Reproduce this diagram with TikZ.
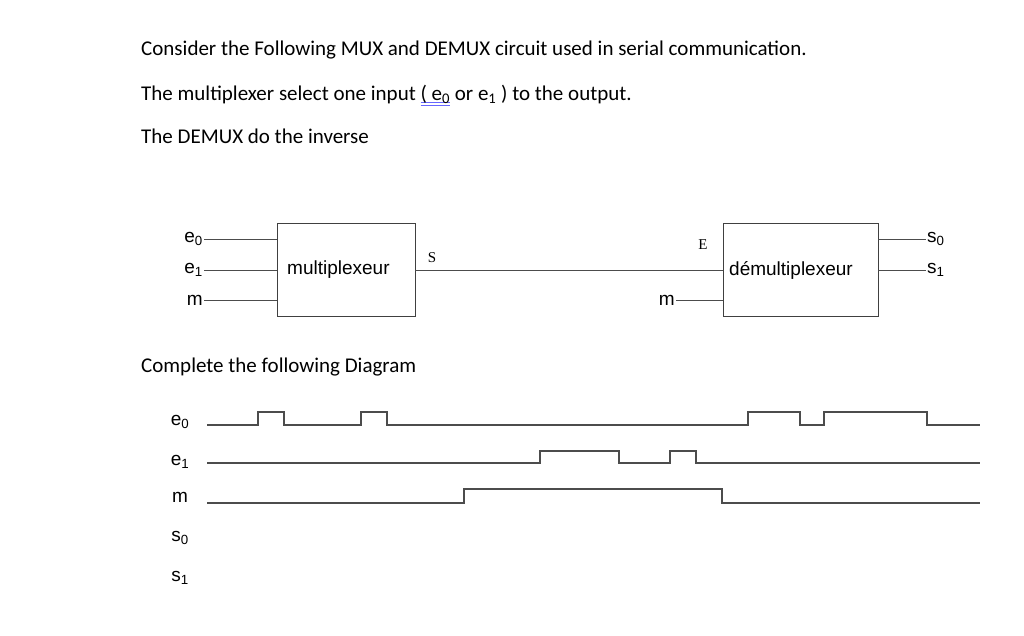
\documentclass[tikz,border=0pt]{standalone}
\usepackage{fontspec}
\usepackage{xcolor}
\setmainfont{Carlito}
\newfontfamily\arial{Liberation Sans}
\newfontfamily\tms{Liberation Serif}
\newsavebox\dulbox
\newcommand\dulx[1]{\sbox\dulbox{#1}\rlap{\color{blue!60}\raisebox{-3pt}{\rule{\wd\dulbox}{0.9pt}}}\rlap{\color{blue!60}\raisebox{-6pt}{\rule{\wd\dulbox}{0.9pt}}}\usebox\dulbox}
\begin{document}
\begin{tikzpicture}[x=1pt,y=-1pt,
  txt/.style={anchor=base west,inner sep=0,font=\fontsize{21}{24}\selectfont},
  lab/.style={inner sep=1pt,font=\arial\fontsize{19}{22}\selectfont},
  blk/.style={draw=black!75,line width=1pt},
  wire/.style={draw=black!70,line width=1pt},
  wave/.style={draw=black!70,line width=1.2pt}]
\useasboundingbox (0,0) rectangle (1024,635);
\node[txt] (t1) at (141,55) {Consider the Following MUX and DEMUX circuit used in serial communication.};
\node[txt] (t2) at (141,100) {The multiplexer select one input \dulx{( e\textsubscript{0}} or e\textsubscript{1} ) to the output.};
\node[txt] (t3) at (141,143) {The DEMUX do the inverse};
\node[txt] (t4) at (141,372) {Complete the following Diagram};
% MUX
\node[blk,minimum width=138,minimum height=93,inner sep=0,anchor=north west] (mux) at (277,223) {};
\node[lab,anchor=west] at (286,270) {multiplexeur};
\node[lab,anchor=east] (le0) at (204,239) {e\textsubscript{0}};
\node[lab,anchor=east] (le1) at (204,270) {e\textsubscript{1}};
\node[lab,anchor=east] (lm) at (204,300) {m};
\coordinate (me0) at (277,239);\coordinate (me1) at (277,270);\coordinate (mm) at (277,300);
\draw[wire] (le0.east) -- (me0); \draw[wire] (le1.east) -- (me1); \draw[wire] (lm.east) -- (mm);
% DEMUX
\node[blk,minimum width=155,minimum height=93,inner sep=0,anchor=north west] (dmx) at (723,223) {};
\node[lab,anchor=west] at (728,270) {démultiplexeur};
\coordinate (mo) at (415,270);\coordinate (di) at (723,270);
\draw[wire] (mo) -- (di);
\node[inner sep=0,font=\tms\fontsize{15}{17}\selectfont] at (432,258) {S};
\node[inner sep=0,font=\tms\fontsize{15}{17}\selectfont] at (703,245) {E};
\node[lab,anchor=east] (dm) at (676,300) {m};
\coordinate (dmi) at (723,300);
\draw[wire] (dm.east) -- (dmi);
\node[lab,anchor=west] (ls0) at (926,239) {s\textsubscript{0}};
\node[lab,anchor=west] (ls1) at (926,270) {s\textsubscript{1}};
\coordinate (ds0) at (878,239);\coordinate (ds1) at (878,270);
\draw[wire] (ds0) -- (ls0.west); \draw[wire] (ds1) -- (ls1.west);
% timing labels
\node[lab] at (180,422) {e\textsubscript{0}};
\node[lab] at (180,462) {e\textsubscript{1}};
\node[lab] at (180,497) {m};
\node[lab] at (180,538) {s\textsubscript{0}};
\node[lab] at (180,578) {s\textsubscript{1}};
% waves
\draw[wave] (207,425) -- (258,425) |- (284,412) |- (361,425) |- (387,412) |- (748,425) |- (800,412) |- (824,425) |- (927,412) |- (980,425);
\draw[wave] (207,463) -- (540,463) |- (619,451) |- (670,463) |- (696,451) |- (980,463);
\draw[wave] (207,503) -- (464,503) |- (722,489) |- (980,503);
\end{tikzpicture}
\end{document}
